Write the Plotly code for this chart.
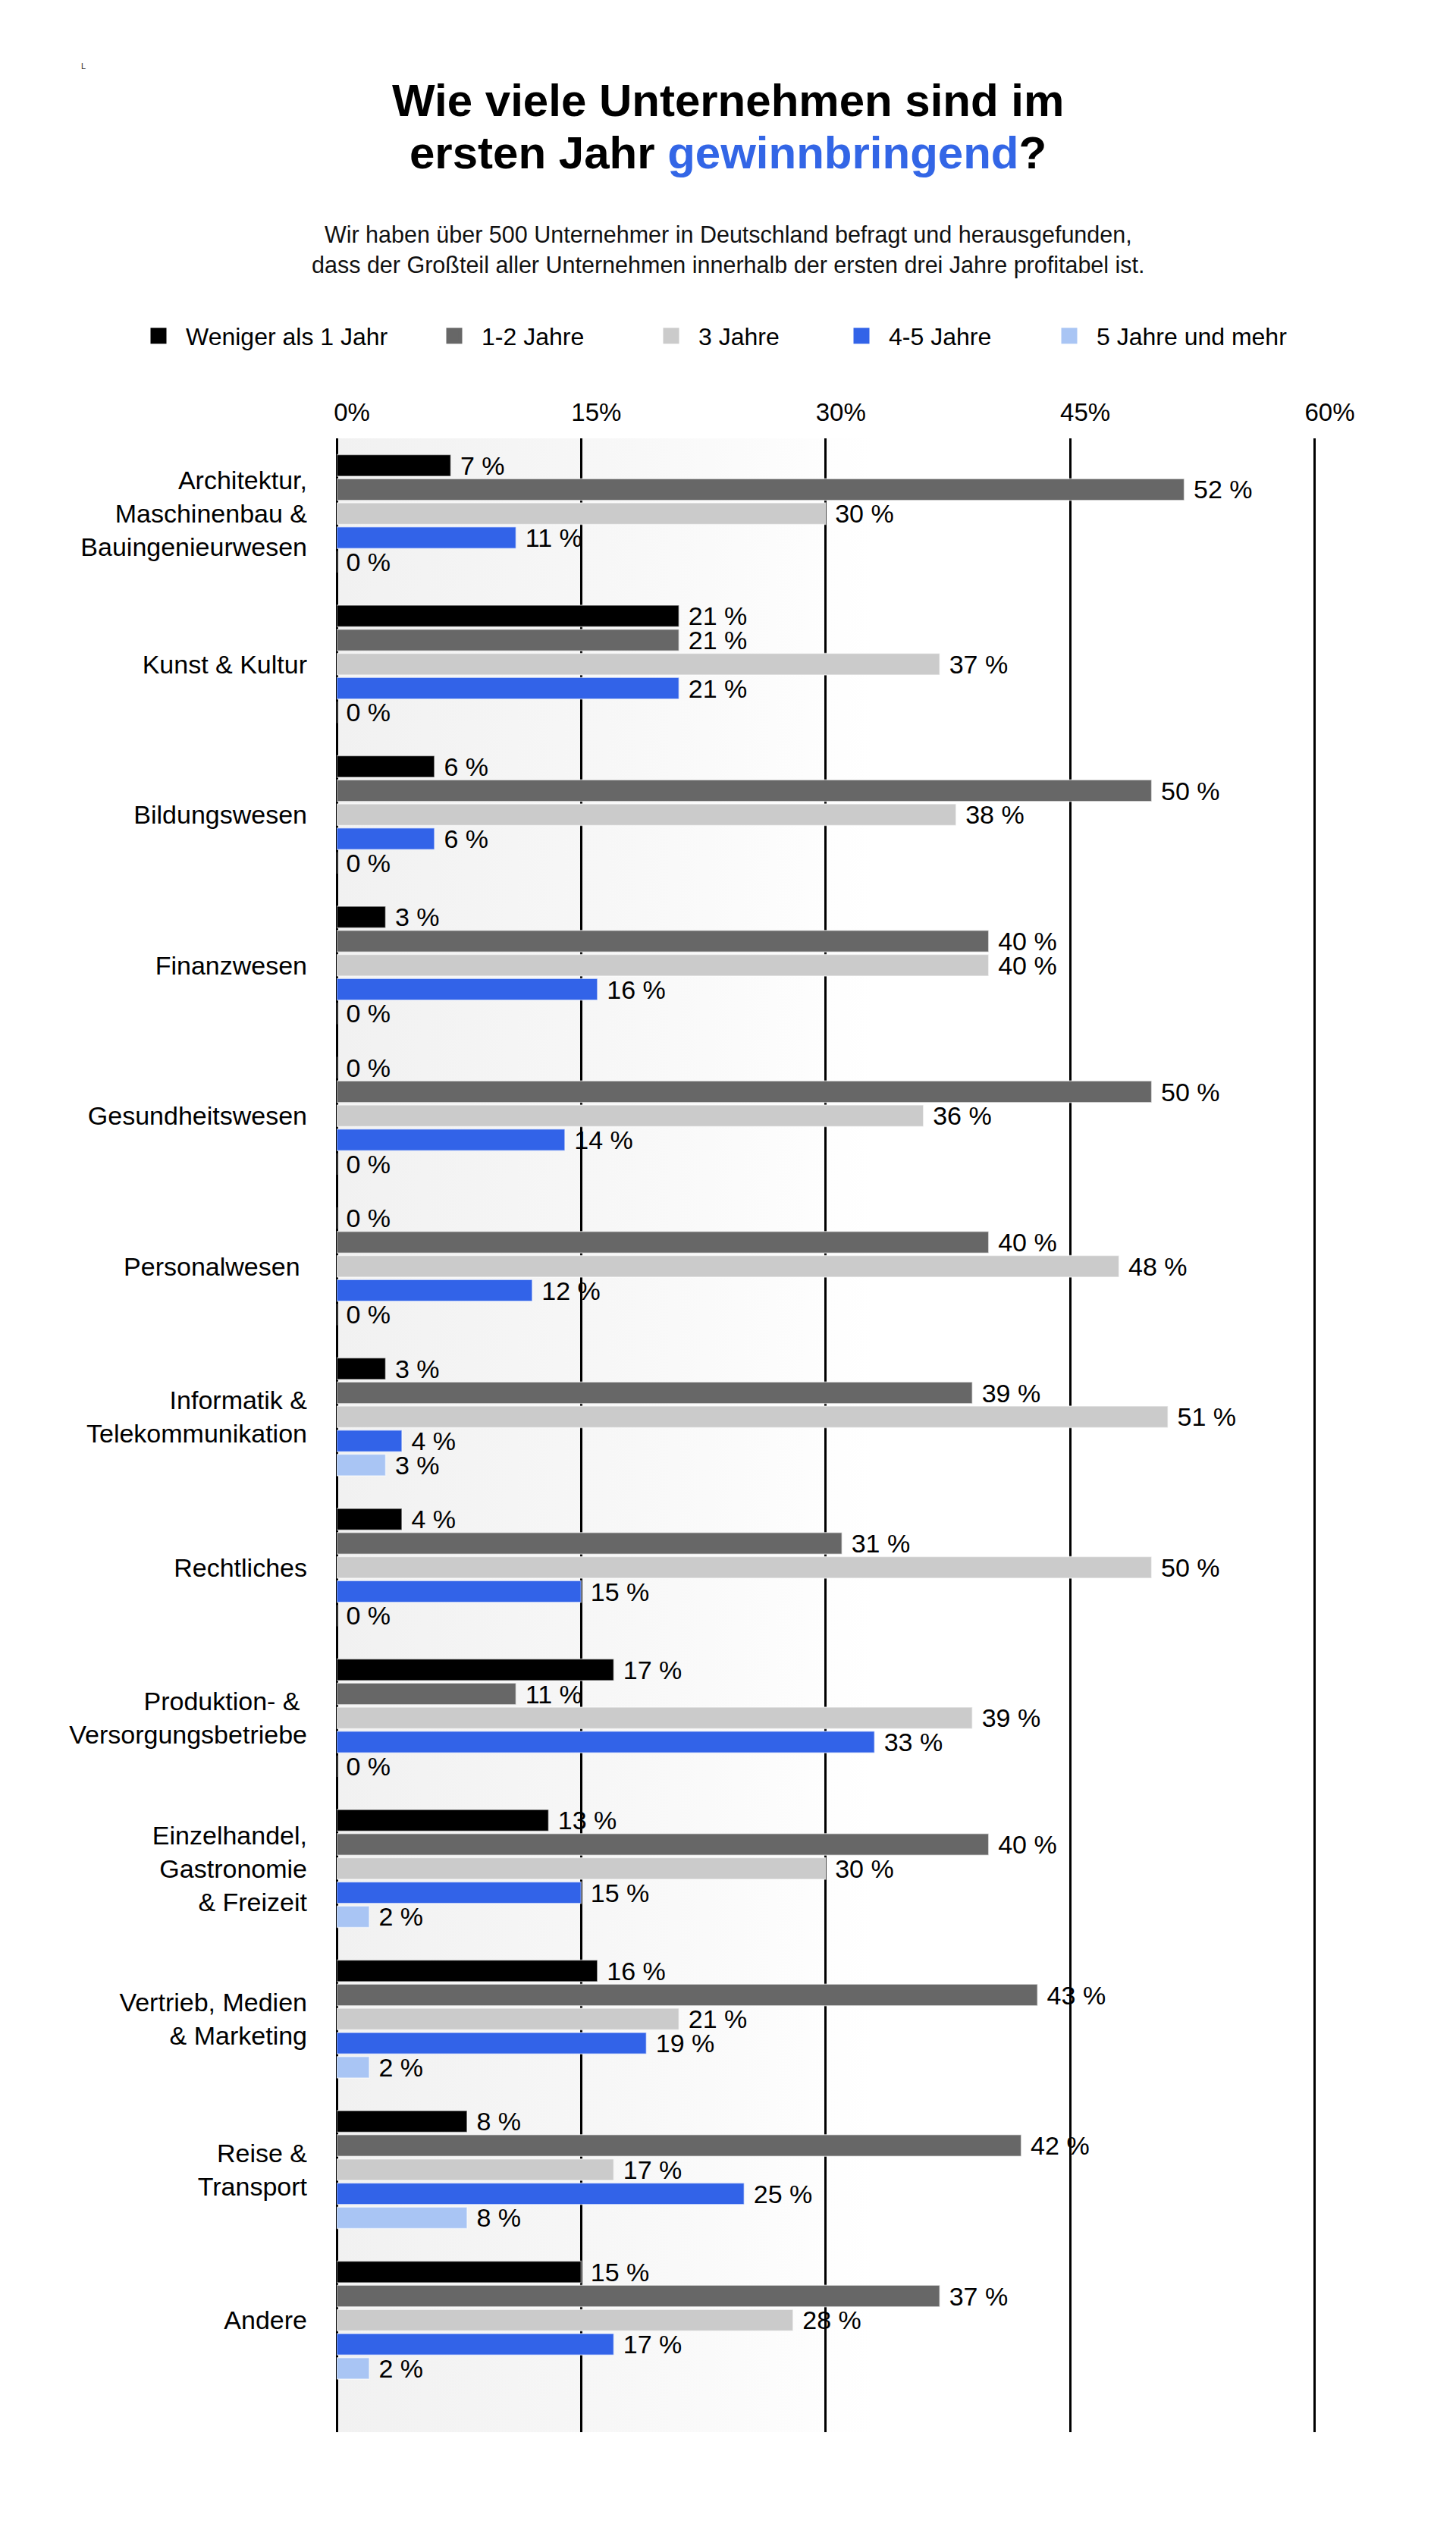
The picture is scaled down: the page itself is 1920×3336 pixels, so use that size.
import base64
import plotly.graph_objects as go

# categories top to bottom (line breaks as in the original labels)
CATEGORIES = [
    'Architektur,<br>Maschinenbau &<br>Bauingenieurwesen',
    'Kunst & Kultur',
    'Bildungswesen',
    'Finanzwesen',
    'Gesundheitswesen',
    'Personalwesen ',
    'Informatik &<br>Telekommunikation',
    'Rechtliches',
    'Produktion- & <br>Versorgungsbetriebe',
    'Einzelhandel,<br>Gastronomie<br>& Freizeit',
    'Vertrieb, Medien<br>& Marketing',
    'Reise &<br>Transport',
    'Andere',
]

SERIES = ['Weniger als 1 Jahr', '1-2 Jahre', '3 Jahre', '4-5 Jahre', '5 Jahre und mehr']

LESS_THAN_1 = [7, 21, 6, 3, 0, 0, 3, 4, 17, 13, 16, 8, 15]
YEARS_1_2 = [52, 21, 50, 40, 50, 40, 39, 31, 11, 40, 43, 42, 37]
YEARS_3 = [30, 37, 38, 40, 36, 48, 51, 50, 39, 30, 21, 17, 28]
YEARS_4_5 = [11, 21, 6, 16, 14, 12, 4, 15, 33, 15, 19, 25, 17]
YEARS_5_PLUS = [0, 0, 0, 0, 0, 0, 3, 0, 0, 2, 2, 8, 2]

X_TICKS = [0, 15, 30, 45, 60]

COLORS = ['#000000', '#676767', '#cbcbcb', '#3263e8', '#a9c5f4']
BLUE = '#3366e6'
FONT = 'Liberation Sans, Arial, Helvetica, sans-serif'

# page geometry
W, H = 1920, 3336
ML, MR, MT, MB = 444, 122, 578, 129
PW, PH = W - ML - MR, H - MT - MB

# legend swatch centres (px from the left of the page)
LEGEND_X = [209, 599, 885, 1136, 1410]
LEGEND_Y = 443
ITEM_W = 62


def px(x):
    return (x - ML) / PW


def py(y):
    return (H - MB - y) / PH


values = [LESS_THAN_1, YEARS_1_2, YEARS_3, YEARS_4_5, YEARS_5_PLUS]

fig = go.Figure()

for name, vals, color in zip(SERIES, values, COLORS):
    fig.add_trace(go.Bar(
        y=CATEGORIES,
        x=vals,
        orientation='h',
        name=name,
        marker=dict(color=color, line=dict(color='rgba(255,255,255,0.55)', width=1.5)),
        text=[' %d %%' % v for v in vals],
        textposition='outside',
        textfont=dict(size=34, color='#000000', family=FONT),
        constraintext='none',
        cliponaxis=False,
        showlegend=False,
        hoverinfo='skip',
    ))

# one small legend per series, so each entry sits where it does in the original
legends = {}
for i, (name, color) in enumerate(zip(SERIES, COLORS)):
    key = 'legend' if i == 0 else 'legend%d' % (i + 1)
    fig.add_trace(go.Scatter(
        x=[None], y=[None],
        mode='markers',
        name=name,
        legend=key,
        marker=dict(symbol='square', size=16, color=color,
                    line=dict(color=color, width=5)),
        hoverinfo='skip',
    ))
    legends[key] = dict(
        orientation='h',
        xref='container', yref='container',
        x=(LEGEND_X[i] - (ITEM_W + 10) / 2) / W, y=1 - LEGEND_Y / H,
        xanchor='left', yanchor='middle',
        font=dict(size=32, family=FONT),
        itemwidth=ITEM_W,
        itemsizing='trace',
        bgcolor='rgba(0,0,0,0)',
    )

# soft grey gradient behind the left part of the plot
svg = ('<svg xmlns="http://www.w3.org/2000/svg" width="100" height="10" '
       'viewBox="0 0 100 10" preserveAspectRatio="none">'
       '<defs><linearGradient id="g" x1="0" x2="1" y1="0" y2="0">'
       '<stop offset="0" stop-color="#f1f1f1"/>'
       '<stop offset="0.5" stop-color="#f7f7f7"/>'
       '<stop offset="1" stop-color="#ffffff"/>'
       '</linearGradient></defs>'
       '<rect width="100" height="10" fill="url(#g)"/></svg>')
bg_src = 'data:image/svg+xml;base64,' + base64.b64encode(svg.encode()).decode()

fig.update_layout(
    width=W,
    height=H,
    margin=dict(l=ML, r=MR, t=MT, b=MB, autoexpand=False),
    paper_bgcolor='white',
    plot_bgcolor='white',
    font=dict(family=FONT, color='#000000'),
    barmode='group',
    bargap=0.2,
    bargroupgap=0.107,
    showlegend=True,
    xaxis=dict(
        side='top',
        range=[0, 63],
        tickvals=X_TICKS,
        ticktext=['%d%%' % v for v in X_TICKS],
        tickfont=dict(size=33),
        ticklabelshift=20,
        ticklabelstandoff=15,
        showgrid=True,
        gridcolor='#000000',
        gridwidth=2.5,
        zeroline=True,
        zerolinecolor='#000000',
        zerolinewidth=2.5,
        showline=False,
        ticks='',
        automargin=False,
        fixedrange=True,
    ),
    yaxis=dict(
        categoryorder='array',
        categoryarray=CATEGORIES,
        range=[12.744, -0.5],
        tickfont=dict(size=34),
        ticklabelstandoff=38,
        showgrid=False,
        zeroline=False,
        showline=False,
        ticks='',
        automargin=False,
        fixedrange=True,
    ),
    images=[dict(
        source=bg_src,
        xref='x', yref='paper',
        x=0, y=1, sizex=33, sizey=1,
        xanchor='left', yanchor='top',
        sizing='stretch',
        layer='below',
    )],
    annotations=[
        dict(text='L', x=px(105), y=py(79), xref='paper', yref='paper',
             showarrow=False, font=dict(size=11, color='#333333')),
        dict(text='Wie viele Unternehmen sind im', x=px(960), y=py(132),
             xref='paper', yref='paper', showarrow=False,
             xanchor='center', yanchor='middle',
             font=dict(size=60, weight='bold', color='#000000')),
        dict(text='ersten Jahr <span style="color:' + BLUE + '">gewinnbringend</span>?',
             x=px(960), y=py(202), xref='paper', yref='paper', showarrow=False,
             xanchor='center', yanchor='middle',
             font=dict(size=60, weight='bold', color='#000000')),
        dict(text='Wir haben über 500 Unternehmer in Deutschland befragt und herausgefunden,<br>'
                  'dass der Großteil aller Unternehmen innerhalb der ersten drei Jahre profitabel ist.',
             x=px(960), y=py(330), xref='paper', yref='paper', showarrow=False,
             xanchor='center', yanchor='middle', align='center',
             font=dict(size=30.5, color='#111111')),
    ],
    **legends,
)

# the page body has a default 8px margin; drop it so the figure sits at 0,0
fig.write_html('out.html', config={'displayModeBar': False},
               post_script="document.body.style.margin='0';")
